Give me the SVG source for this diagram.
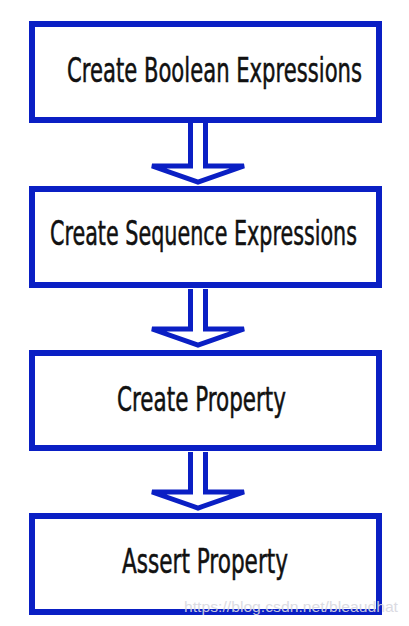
<svg xmlns="http://www.w3.org/2000/svg" width="409" height="626" viewBox="0 0 409 626">
<style>
.box{fill:#ffffff;stroke:#0a1fc4;stroke-width:6}
.lbl{font-family:"Liberation Sans Narrow","DejaVu Sans Condensed","Liberation Sans",sans-serif;font-size:33px;fill:#111111;stroke:#111111;stroke-width:0.5}
.arr{fill:#ffffff;stroke:#0a1fc4;stroke-width:5;stroke-linejoin:miter}
.wm{font-family:"Liberation Sans",Arial,sans-serif;font-size:15px;fill:#d8d8e0;opacity:0.9}
</style>
<rect width="409" height="626" fill="#ffffff"/>
<g id="connectors">
<path class="arr" d="M190.5,123 L190.5,166 L152,166 L198,182 L244,166 L205.5,166 L205.5,123"/>
<path class="arr" d="M190.5,289 L190.5,329 L152,329 L198,345 L244,329 L205.5,329 L205.5,289"/>
<path class="arr" d="M190.5,452 L190.5,492 L152,492 L198,508 L244,492 L205.5,492 L205.5,452"/>
</g>
<g id="node1">
<rect class="box" x="32" y="24" width="347" height="96"/>
<text class="lbl" x="67" y="82" textLength="295" lengthAdjust="spacingAndGlyphs">Create Boolean Expressions</text>
</g>
<g id="node2">
<rect class="box" x="32" y="189" width="347" height="96"/>
<text class="lbl" x="50" y="245" textLength="307" lengthAdjust="spacingAndGlyphs">Create Sequence Expressions</text>
</g>
<g id="node3">
<rect class="box" x="32" y="353" width="347" height="95"/>
<text class="lbl" x="117" y="411" textLength="169" lengthAdjust="spacingAndGlyphs">Create Property</text>
</g>
<g id="node4">
<rect class="box" x="32" y="516" width="347" height="96"/>
<text class="lbl" x="122" y="573" textLength="166" lengthAdjust="spacingAndGlyphs">Assert Property</text>
</g>
<text class="wm" x="184" y="612" textLength="214" lengthAdjust="spacingAndGlyphs">https://blog.csdn.net/bleaudhat</text>
</svg>
